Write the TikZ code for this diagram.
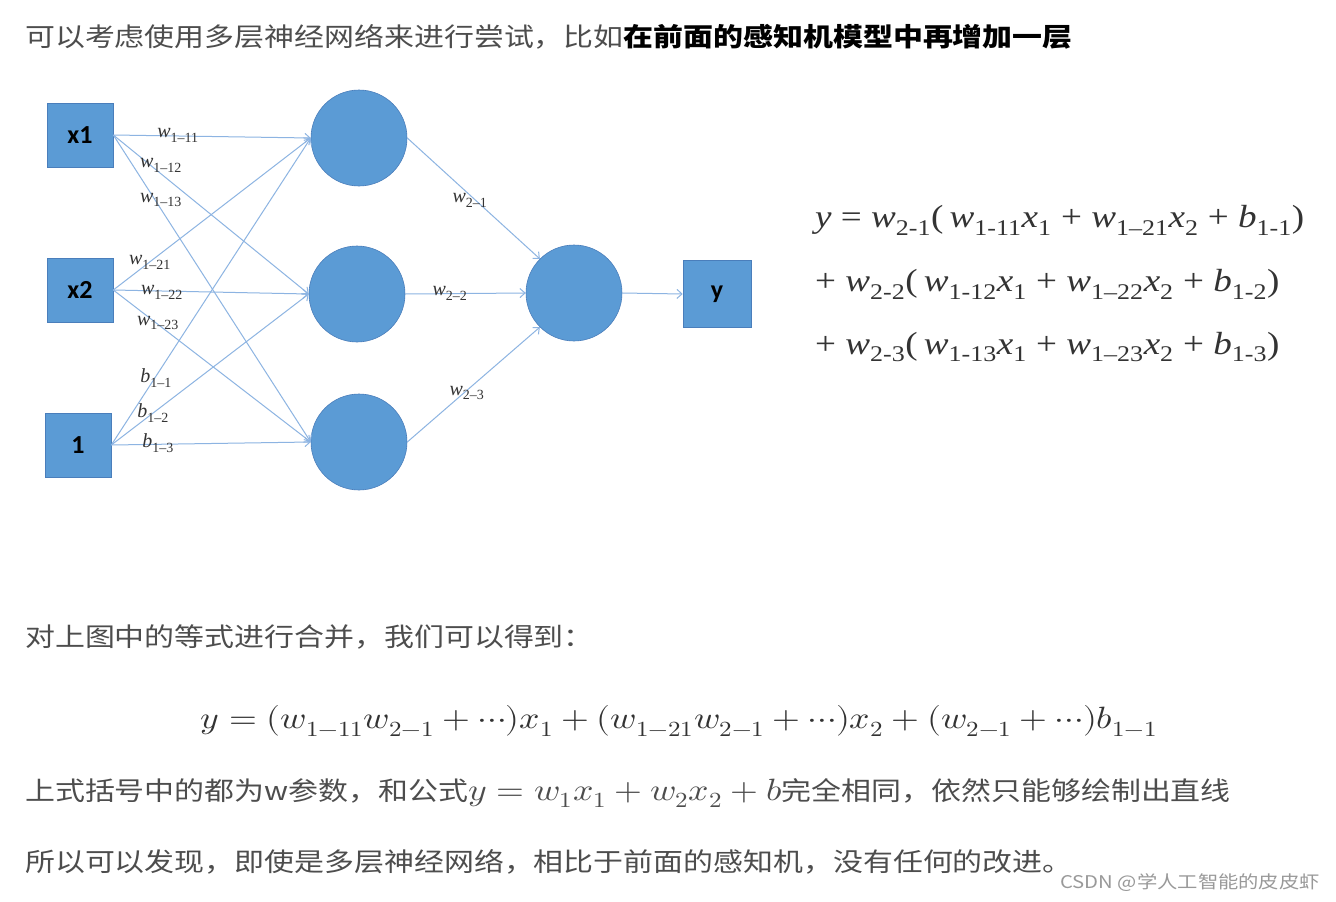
\documentclass[tikz,border=0pt]{standalone}
\usepackage{graphicx}
\usepackage{fontspec}
\usepackage{unicode-math}
\setmathfont{Latin Modern Math}
\newfontfamily\cjk{Noto Sans CJK SC}
\newfontfamily\tms{Liberation Serif}
\newfontfamily\boxfont{Carlito}
\usetikzlibrary{arrows.meta}
\definecolor{nodeblue}{HTML}{5B9BD5}
\definecolor{nodeedge}{HTML}{4A7EBB}
\definecolor{linkblue}{HTML}{8DB4E2}
\definecolor{txtgray}{HTML}{4D4D4D}
\definecolor{lblgray}{HTML}{333333}
\definecolor{wmgray}{HTML}{999999}
\newcommand\lw[1]{\textit{w}\textsubscript{#1}}
\newcommand\lb[1]{\textit{b}\textsubscript{#1}}
\newcommand\lx[1]{\textit{x}\textsubscript{#1}}
\newcommand\hs[1]{\scalebox{1.16}[1]{#1}}
\begin{document}
\begin{tikzpicture}[x=1pt,y=-1pt,
 inbox/.style={rectangle, fill=nodeblue, draw=nodeedge, line width=0.6pt, minimum width=66pt, minimum height=64pt, inner sep=0pt, font={\boxfont\bfseries\fontsize{26}{30}\selectfont}},
 neuron/.style={circle, fill=nodeblue, draw=nodeedge, line width=0.6pt, minimum size=96pt, inner sep=0pt},
 link/.style={draw=linkblue, line width=1pt, -{Straight Barb[length=5pt,width=9pt]}},
 wlabel/.style={inner sep=0pt, text=lblgray, font={\tms\fontsize{20}{24}\selectfont}},
 eqline/.style={anchor=west, inner sep=0pt, text=lblgray, font={\tms\fontsize{32}{38}\selectfont}},
 cjktext/.style={anchor=west, inner sep=0pt, text=txtgray, font={\cjk\fontsize{25.8}{30}\selectfont}},
]
\fill[white] (0,0) rectangle (1336,902);
\useasboundingbox (0,0) rectangle (1336,902);

\node[cjktext] (t1) at (25,37) {\hs{可以考虑使用多层神经网络来进行尝试，比如{\bfseries\color{black}在前面的感知机模型中再增加一层}}};

\node[inbox] (x1) at (80,135) {x1};
\node[inbox] (x2) at (80,290) {x2};
\node[inbox] (bias) at (78,445) {1};
\node[neuron] (h1) at (359,138) {};
\node[neuron] (h2) at (357,294) {};
\node[neuron] (h3) at (359,442) {};
\node[neuron] (o) at (574,293) {};
\node[inbox, minimum width=68pt, minimum height=67pt] (yb) at (717,294) {y};

\foreach \s in {x1,x2,bias} {
  \foreach \t in {h1,h2,h3} {
    \draw[link] (\s.east) -- (\t.west);
  }
}
\draw[link] (h1.east) -- (o.135);
\draw[link] (h2.east) -- (o.west);
\draw[link] (h3.east) -- (o.225);
\draw[link] (o.east) -- (yb.west);

\node[wlabel] (l111) at (178,135) {\lw{1–11}};
\node[wlabel] (l112) at (161,165) {\lw{1–12}};
\node[wlabel] (l113) at (161,200) {\lw{1–13}};
\node[wlabel] (l121) at (150,262) {\lw{1–21}};
\node[wlabel] (l122) at (162,292) {\lw{1–22}};
\node[wlabel] (l123) at (158,323) {\lw{1–23}};
\node[wlabel] (lb1) at (156,378) {\lb{1–1}};
\node[wlabel] (lb2) at (153,413) {\lb{1–2}};
\node[wlabel] (lb3) at (158,443) {\lb{1–3}};
\node[wlabel] (l21) at (470,200) {\lw{2–1}};
\node[wlabel] (l22) at (450,293) {\lw{2–2}};
\node[wlabel] (l23) at (467,393) {\lw{2–3}};

\node[eqline] (e1) at (815,220) {\hs{\textit{y} = \lw{2-1}(\,\lw{1-11}\lx{1} + \lw{1–21}\lx{2} + \lb{1-1})}};
\node[eqline] (e2) at (815,284) {\hs{+ \lw{2-2}(\,\lw{1-12}\lx{1} + \lw{1–22}\lx{2} + \lb{1-2})}};
\node[eqline] (e3) at (815,347) {\hs{+ \lw{2-3}(\,\lw{1-13}\lx{1} + \lw{1–23}\lx{2} + \lb{1-3})}};

\node[cjktext] (t2) at (25,637) {\hs{对上图中的等式进行合并，我们可以得到：}};
\node[inner sep=0pt, text=lblgray, font={\fontsize{30.8}{36}\selectfont}] (eq) at (679,721) {\hs{$y=(w_{1-11}w_{2-1}+\cdots)x_1+(w_{1-21}w_{2-1}+\cdots)x_2+(w_{2-1}+\cdots)b_{1-1}$}};
\node[cjktext] (t3) at (25,793) {\hs{上式括号中的都为w参数，和公式{\fontsize{30.8}{36}\selectfont$y=w_1x_1+w_2x_2+b$}完全相同，依然只能够绘制出直线}};
\node[cjktext] (t4) at (25,862) {\hs{所以可以发现，即使是多层神经网络，相比于前面的感知机，没有任何的改进。}};
\node[anchor=east, inner sep=0pt, text=wmgray, font={\cjk\fontsize{17.5}{21}\selectfont}] (wm) at (1320,883) {\hs{CSDN @学人工智能的皮皮虾}};
\end{tikzpicture}
\end{document}
